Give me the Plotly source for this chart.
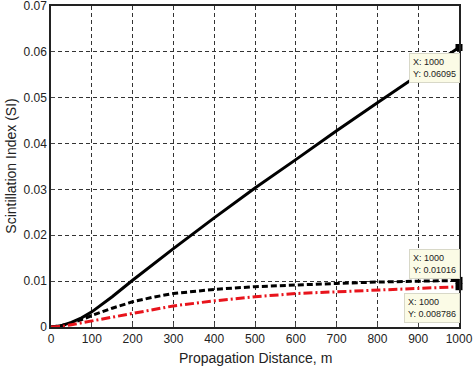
import plotly.graph_objects as go

distance = [0, 25, 50, 75, 100, 150, 200, 250, 300, 400, 500, 600, 700, 800, 900, 1000]
si_solid = [0, 0.0003, 0.0010, 0.0020, 0.0033, 0.0066, 0.0102, 0.0137, 0.0171, 0.0238, 0.0303, 0.0365, 0.0428, 0.0489, 0.0550, 0.06095]
si_dashed = [0, 0.0003, 0.0009, 0.0016, 0.0025, 0.0041, 0.0055, 0.0065, 0.0073, 0.0082, 0.0088, 0.0092, 0.0095, 0.0098, 0.0100, 0.01016]
si_red = [0, 0.0001, 0.0005, 0.0009, 0.0013, 0.0022, 0.0030, 0.0038, 0.0046, 0.0057, 0.0066, 0.0073, 0.0077, 0.0081, 0.0084, 0.008786]

tip_x = [1000, 1000, 1000]
tip_y = [0.06095, 0.01016, 0.008786]
tip_text = ["X: 1000<br>Y: 0.06095", "X: 1000<br>Y: 0.01016", "X: 1000<br>Y: 0.008786"]

x_ticks = [0, 100, 200, 300, 400, 500, 600, 700, 800, 900, 1000]
y_ticks = [0, 0.01, 0.02, 0.03, 0.04, 0.05, 0.06, 0.07]
y_tick_labels = ["0", "0.01", "0.02", "0.03", "0.04", "0.05", "0.06", "0.07"]

fig = go.Figure()
fig.add_trace(go.Scatter(x=distance, y=si_solid, mode="lines",
                         line=dict(color="black", width=3), showlegend=False))
fig.add_trace(go.Scatter(x=distance, y=si_dashed, mode="lines",
                         line=dict(color="black", width=3, dash="6px,3px"), showlegend=False))
fig.add_trace(go.Scatter(x=distance, y=si_red, mode="lines",
                         line=dict(color="#e8141c", width=3, dash="9px,3px,2px,3px"), showlegend=False))
fig.add_trace(go.Scatter(x=tip_x, y=tip_y, mode="markers", cliponaxis=False,
                         marker=dict(symbol="square", size=7, color="black"), showlegend=False))

offsets = [(-25, 20), (-25, -16), (-27, 21)]
for x, y, t, (ax, ay) in zip(tip_x, tip_y, tip_text, offsets):
    fig.add_annotation(x=x, y=y, text=t, showarrow=True, arrowcolor="rgba(0,0,0,0)",
                       ax=ax, ay=ay, align="left", xanchor="center", yanchor="middle",
                       font=dict(family="Liberation Sans, Arial", size=9, color="#222"),
                       bgcolor="#fbfbe6", bordercolor="#d8d8c8", borderwidth=1, borderpad=3)

fig.add_annotation(xref="paper", yref="paper", x=0.5, y=-0.097, yanchor="middle", showarrow=False,
                   text="Propagation Distance, m", font=dict(size=14, color="#222"))
fig.add_annotation(xref="paper", yref="paper", x=-0.1, xanchor="center", y=0.5, showarrow=False,
                   textangle=-90, text="Scintillation Index (SI)", font=dict(size=14, color="#222"))

fig.update_layout(
    width=474, height=366,
    margin=dict(l=51, r=15, t=6, b=39),
    paper_bgcolor="white", plot_bgcolor="white",
    font=dict(family="Liberation Sans, Arial", size=12, color="#222"),
)
fig.update_xaxes(range=[0, 1000], tickvals=x_ticks, ticks="inside", ticklen=4,
                 showline=True, linecolor="#222", linewidth=1.5, mirror=True,
                 showgrid=True, gridcolor="#333", gridwidth=1, griddash="4px,3px",
                 zeroline=False, tickfont=dict(size=12), automargin=False,
                 ticklabeloverflow="allow")
fig.update_yaxes(range=[0, 0.070001], tickvals=y_ticks, ticktext=y_tick_labels, ticks="inside", ticklen=4,
                 showline=True, linecolor="#222", linewidth=1.5, mirror=True,
                 showgrid=True, gridcolor="#333", gridwidth=1, griddash="4px,3px",
                 zeroline=False, tickfont=dict(size=12), automargin=False,
                 ticklabeloverflow="allow")

fig.write_html("out.html", config={"displayModeBar": False},
               post_script="document.body.style.margin='0';document.body.style.overflow='hidden';")
